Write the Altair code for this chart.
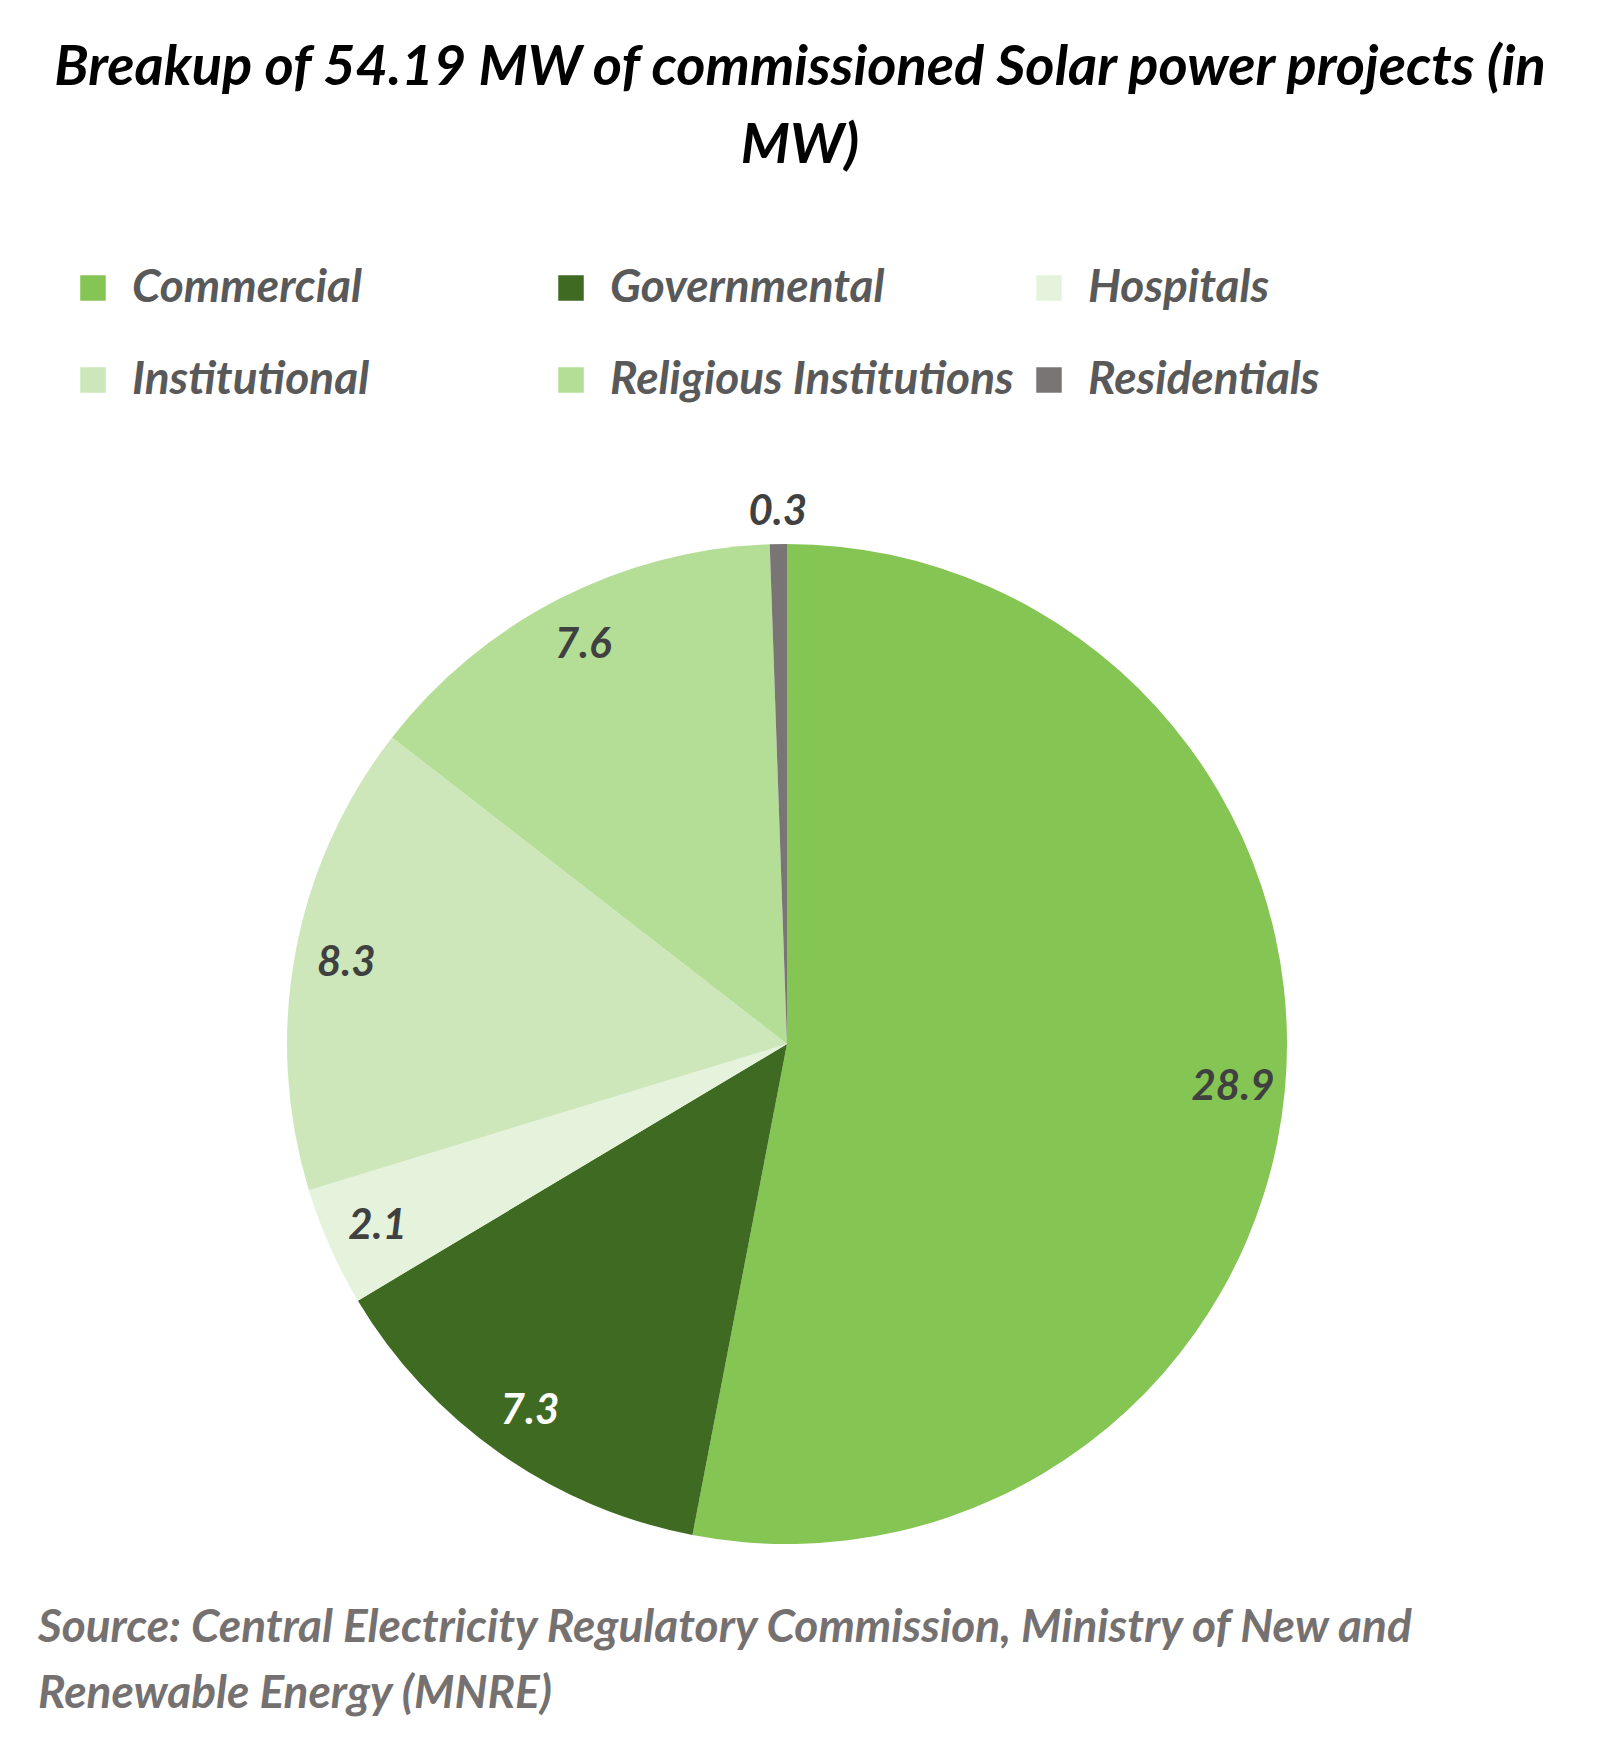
import altair as alt
import pandas as pd

categories = ["Commercial", "Governmental", "Hospitals", "Institutional",
              "Religious Institutions", "Residentials"]
values = [28.9, 7.3, 2.1, 8.3, 7.6, 0.3]
labels = ["28.9", "7.3", "2.1", "8.3", "7.6", "0.3"]
colors = ["#84C553", "#3F6A22", "#E6F3DC", "#CDE7BA", "#B4DD96", "#7A7575"]
order = [0, 1, 2, 3, 4, 5]

title_lines = ["Breakup of 54.19 MW of commissioned Solar power projects (in", "MW)"]
source_text = "Source: Central Electricity Regulatory Commission, Ministry of New and\nRenewable Energy (MNRE)"

df = pd.DataFrame({"category": categories, "value": values, "label": labels, "order": order})
src = pd.DataFrame({"line": [source_text]})

FONT = "Lato"
TOP = 175
CX, CY = 787, 1044 - TOP
R = 500

base = alt.Chart(df)

theta = alt.Theta("value:Q", stack=True, scale=alt.Scale(range=[0, 6.283185307]))
color = alt.Color(
    "category:N",
    scale=alt.Scale(domain=categories, range=colors),
    sort=categories,
    legend=alt.Legend(
        title=None, orient="none", legendX=70, legendY=90, columns=3,
        direction="horizontal",
        symbolType="square", symbolSize=650, symbolStrokeWidth=0,
        labelFont=FONT, labelFontSize=46, labelFontStyle="italic",
        labelFontWeight="bold", labelColor="#595959", labelOffset=16,
        labelLimit=700, rowPadding=46, columnPadding=12, gridAlign="all",
    ),
)

arcs = base.mark_arc(radius=R, stroke=None).encode(
    theta=theta, color=color, order=alt.Order("order:Q"),
    x=alt.value(CX), y=alt.value(CY),
)

lab_common = dict(font=FONT, fontSize=42, fontWeight="bold", fontStyle="italic")

inner = base.mark_text(radius=448, **lab_common).encode(
    theta=theta, text="label:N", order=alt.Order("order:Q"),
    x=alt.value(CX), y=alt.value(CY),
    color=alt.condition("datum.category == 'Governmental'", alt.value("#FFFFFF"), alt.value("#404040")),
).transform_filter("datum.category != 'Residentials'")

outer_lbl = base.mark_text(radius=532, **lab_common).encode(
    theta=theta, text="label:N", order=alt.Order("order:Q"),
    x=alt.value(CX), y=alt.value(CY), color=alt.value("#404040"),
    opacity=alt.condition("datum.category == 'Residentials'", alt.value(1), alt.value(0)),
)

source = alt.Chart(src).mark_text(
    font=FONT, fontSize=46, fontStyle="italic", fontWeight="bold",
    color="#767171", align="left", baseline="middle", lineBreak="\n", lineHeight=66,
).encode(
    text="line:N",
    x=alt.value(38),
    y=alt.value(1628 - TOP),
)

chart = alt.layer(arcs, inner, outer_lbl, source).properties(
    width=1600, height=1751 - TOP,
    padding={"top": TOP, "left": 0, "right": 0, "bottom": 0},
    autosize=alt.AutoSizeParams(type="none"),
    background="#FFFFFF",
    title=alt.TitleParams(
        text=title_lines, font=FONT, fontSize=56, fontStyle="italic", fontWeight="bold",
        color="#000000", anchor="middle", lineHeight=78, offset=0,
    ),
).configure_view(stroke=None, strokeWidth=0)

chart.save("out.html", embed_options={"renderer": "svg", "actions": False})
